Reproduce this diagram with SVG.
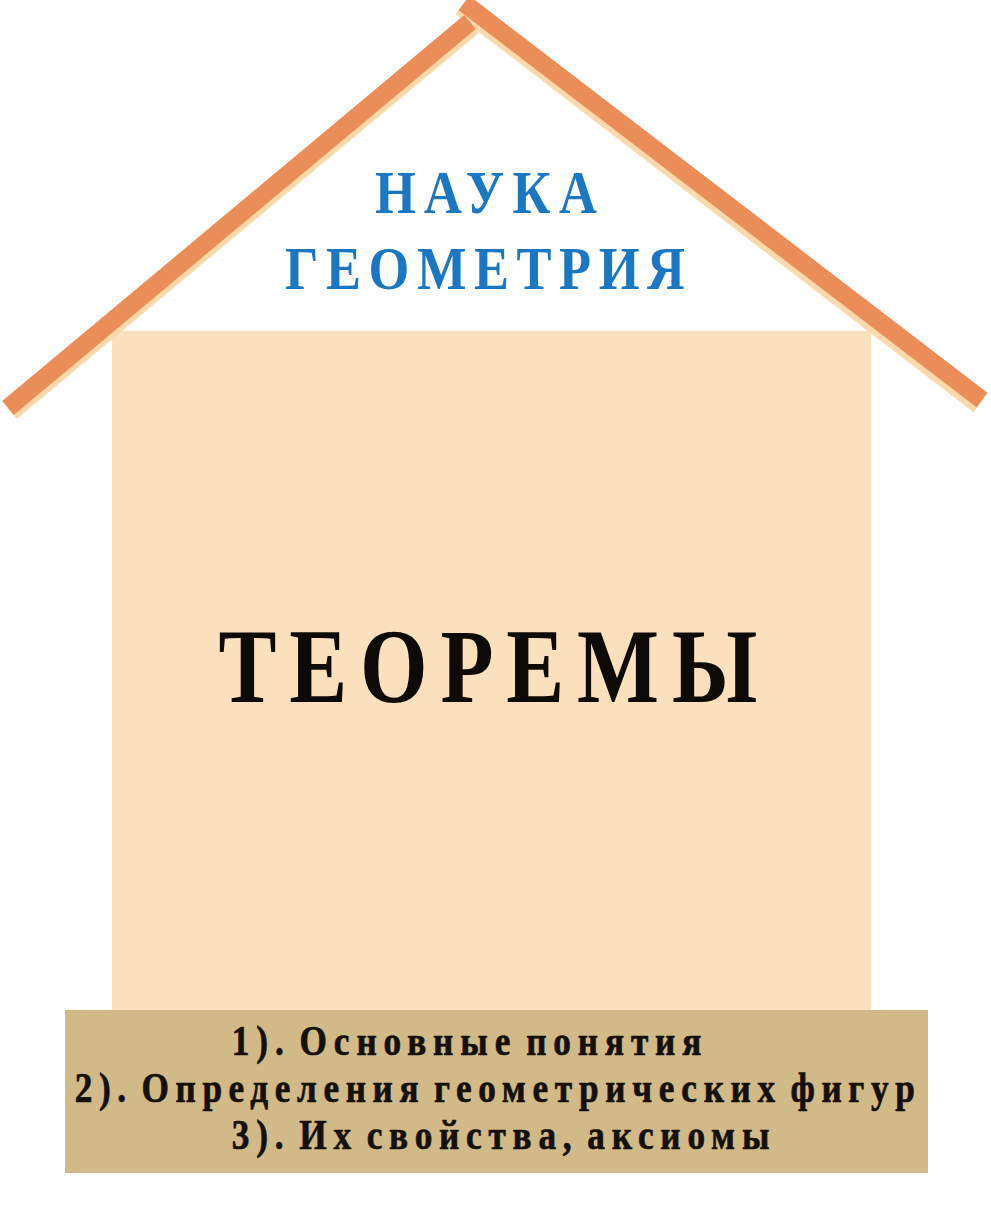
<svg xmlns="http://www.w3.org/2000/svg" width="991" height="1226" viewBox="0 0 991 1226">
<style>
.beam{stroke:#ea8d58;stroke-width:18;stroke-linecap:butt;fill:none}
.shadow{stroke:#fbd9aa;stroke-width:18;stroke-linecap:butt;fill:none}
.title{font-family:"Liberation Serif","Times New Roman",serif;font-weight:bold;fill:#1c77c3;text-anchor:middle;font-size:61px}
.main{font-family:"Liberation Serif","Times New Roman",serif;font-weight:bold;fill:#0d0a08;text-anchor:middle;font-size:106px}
.item{font-family:"Liberation Serif","Times New Roman",serif;font-weight:bold;fill:#15100a;stroke:#15100a;stroke-width:0.7;font-size:42px;word-spacing:-8px}
</style>
<rect width="991" height="1226" fill="#ffffff"/>
<g id="body">
<rect x="112" y="331" width="759" height="680" fill="#fbe0bd"/>
<text class="main" transform="scale(0.82,1)" x="595" y="702" textLength="657" lengthAdjust="spacing">ТЕОРЕМЫ</text>
</g>
<g id="roof">
<line class="shadow" x1="11" y1="412" x2="473" y2="26"/>
<line class="shadow" x1="461" y1="7" x2="979" y2="405"/>
<line class="beam" x1="8" y1="408" x2="470" y2="22"/>
<line class="beam" x1="464" y1="3" x2="982" y2="400"/>
<text class="title" transform="scale(0.86,1)" x="565" y="213" textLength="258" lengthAdjust="spacing">НАУКА</text>
<text class="title" transform="scale(0.86,1)" x="564" y="289" textLength="465" lengthAdjust="spacing">ГЕОМЕТРИЯ</text>
</g>
<g id="base">
<rect x="65" y="1010" width="863" height="163" fill="#d1ba88"/>
<g transform="scale(0.84,1)">
<text class="item" x="276" y="1055" textLength="559" lengthAdjust="spacing">1). Основные понятия</text>
<text class="item" x="89" y="1102" textLength="1000" lengthAdjust="spacing">2). Определения геометрических фигур</text>
<text class="item" x="276" y="1149" textLength="640" lengthAdjust="spacing">3). Их свойства, аксиомы</text>
</g>
</g>
<g id="connectors"></g>
</svg>
